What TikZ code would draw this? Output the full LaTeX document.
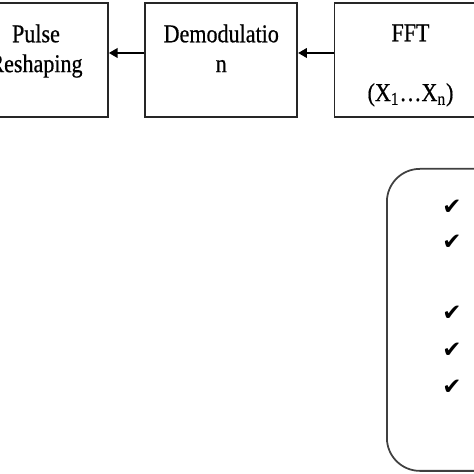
\documentclass[tikz,border=0pt]{standalone}
\usepackage{fontspec}
\setmainfont[FakeStretch=0.86,FakeBold=0.6]{Liberation Serif}
\newfontfamily\chkfont{DejaVu Sans}
\usetikzlibrary{arrows.meta,positioning}
\tikzset{blk/.style={draw=black!85,line width=1pt,minimum width=3.04cm,minimum height=2.28cm,inner sep=0pt},
  lbl/.style={align=center,inner sep=0pt,font=\fontsize{14.6}{17}\selectfont},
  arr/.style={-{Triangle[length=5pt,width=5.5pt]},line width=1pt},
  chk/.style={font=\chkfont\fontsize{13}{13}\selectfont,inner sep=0pt}}
\begin{document}
\begin{tikzpicture}
\useasboundingbox (0,0) rectangle (9.48,9.48);
\clip (0,0) rectangle (9.48,9.48);
\node[blk] (fft) at (8.21,8.28){};
\node[blk,left=0.71cm of fft] (demod){};
\node[blk,left=0.71cm of demod] (pulse){};
\node[lbl,below=0.44cm of pulse.north,xshift=0.08cm] (pulsetxt){Pulse\\Reshaping};
\node[lbl,below=0.44cm of demod.north] (demodtxt){Demodulatio\\n};
\node[lbl,below=0.44cm of fft.north] (ffttxt){FFT\\[17pt](X\textsubscript{1}\dots X\textsubscript{n})};
\draw[arr] ([yshift=0.14cm]fft.west)--([yshift=0.14cm]demod.east);
\draw[arr] ([yshift=0.14cm]demod.west)--([yshift=0.14cm]pulse.east);
% feature list on the right
\node[draw=black!75,line width=1pt,rounded corners=0.66cm,minimum width=3.4cm,minimum height=6.04cm,anchor=north west] (feat) at (7.72,6.12){};
\foreach \y/\n in {5.34/1,4.64/2,3.22/3,2.48/4,1.74/5}
  \node[chk] (chk\n) at (9.04,\y){✔};
\end{tikzpicture}
\end{document}
